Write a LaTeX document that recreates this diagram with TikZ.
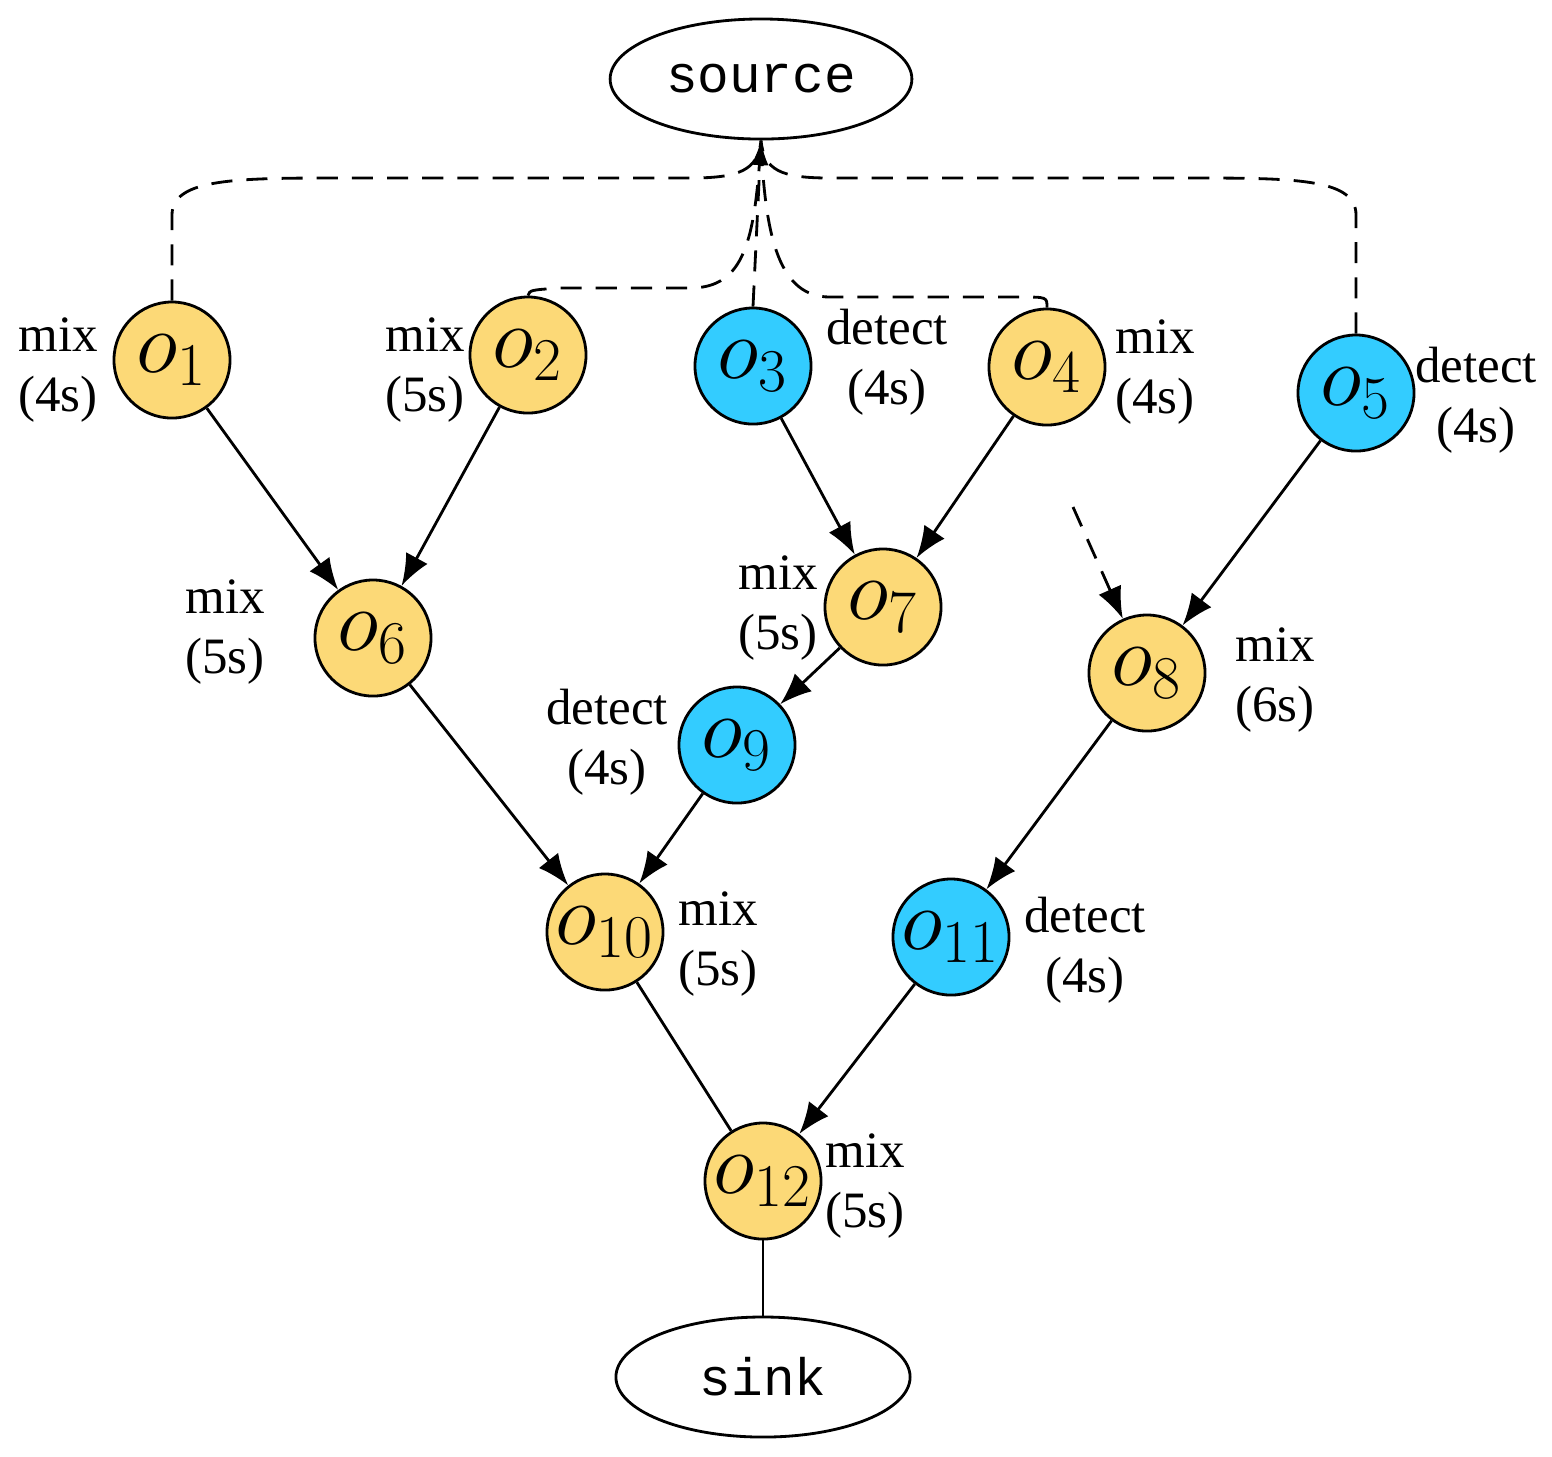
\documentclass[tikz,border=0pt]{standalone}
\usepackage{fontspec}
\setmainfont{Liberation Serif}
\newfontfamily\monof{Liberation Mono}
\usetikzlibrary{arrows.meta,shapes.geometric}
\definecolor{ye}{HTML}{FCD977}
\definecolor{cy}{HTML}{33CCFF}
\begin{document}
\begin{tikzpicture}[x=0.01cm,y=-0.01cm,
  op/.style={circle,draw,line width=0.8pt,minimum size=1.16cm,inner sep=0pt,font=\fontsize{25}{25}\selectfont},
  mx/.style={op,fill=ye},
  dt/.style={op,fill=cy},
  lb/.style={align=center,font=\fontsize{14.5}{17}\selectfont},
  term/.style={ellipse,draw,line width=0.8pt,minimum width=2.94cm,minimum height=1.2cm,font=\monof\fontsize{15}{15}\selectfont},
  ar/.style={line width=0.8pt,-{Latex[length=9pt,width=7pt]}},
  ds/.style={line width=0.8pt,dash pattern=on 6pt off 4pt}]
\useasboundingbox (0,0) rectangle (1552,1456);
\node[term] (src) at (761,79) {source};
\node[term] (snk) at (763,1377) {sink};
\node[mx] (o1) at (172,360) {$o_1$};
\node[mx] (o2) at (528,355) {$o_2$};
\node[dt] (o3) at (753,366) {$o_3$};
\node[mx] (o4) at (1047,367) {$o_4$};
\node[dt] (o5) at (1356,393) {$o_5$};
\node[mx] (o6) at (373,638) {$o_6$};
\node[mx] (o7) at (883,607) {$o_7$};
\node[mx] (o8) at (1147,673) {$o_8$};
\node[dt] (o9) at (737,745) {$o_9$};
\node[mx] (o10) at (605,932) {$o_{10}$};
\node[dt] (o11) at (951,937) {$o_{11}$};
\node[mx] (o12) at (763,1181) {$o_{12}$};
\node[lb] (l1) at (58,370) {mix\\(4s)};
\node[lb] (l2) at (425,370) {mix\\(5s)};
\node[lb] (l3) at (887,362) {detect\\(4s)};
\node[lb] (l4) at (1155,372) {mix\\(4s)};
\node[lb] (l5) at (1476,400) {detect\\(4s)};
\node[lb] (l6) at (225,632) {mix\\(5s)};
\node[lb] (l7) at (778,608) {mix\\(5s)};
\node[lb] (l8) at (1275,680) {mix\\(6s)};
\node[lb] (l9) at (607,742) {detect\\(4s)};
\node[lb] (l10) at (718,944) {mix\\(5s)};
\node[lb] (l11) at (1085,950) {detect\\(4s)};
\node[lb] (l12) at (865,1186) {mix\\(5s)};
\draw[ar] (o1) -- (o6);
\draw[ar] (o2) -- (o6);
\draw[ar] (o3) -- (o7);
\draw[ar] (o4) -- (o7);
\draw[ar] (o5) -- (o8);
\draw[ar] (o7) -- (o9);
\draw[ar] (o6) -- (o10);
\draw[ar] (o9) -- (o10);
\draw[ar] (o8) -- (o11);
\draw[ar] (o11) -- (o12);
\draw[line width=0.8pt] (o10) -- (o12);
\draw[line width=0.8pt] (o12) -- (snk);
\coordinate (d8) at (1073,507);
\draw[ds,-{Latex[length=9pt,width=7pt]}] (d8) -- (o8);
\coordinate (a1) at (172,215);
\coordinate (a5) at (1356,215);
\draw[ds] (o1.north) -- (a1) .. controls (172,180) and (230,178) .. (330,178) -- (690,178) .. controls (740,178) and (758,170) .. (src.south);
\draw[ds] (o5.north) -- (a5) .. controls (1356,180) and (1300,178) .. (1200,178) -- (830,178) .. controls (780,178) and (764,170) .. (src.south);
\draw[ds] (o2.north) .. controls (530,290) .. (560,288) -- (690,288) .. controls (745,288) and (755,240) .. (src.south);
\draw[ds] (o4.north) .. controls (1047,297) .. (1020,297) -- (830,297) .. controls (780,297) and (765,240) .. (src.south);
\draw[ds,-{Latex[length=7pt,width=5pt]}] (o3.north) -- (src.south);
\end{tikzpicture}
\end{document}
